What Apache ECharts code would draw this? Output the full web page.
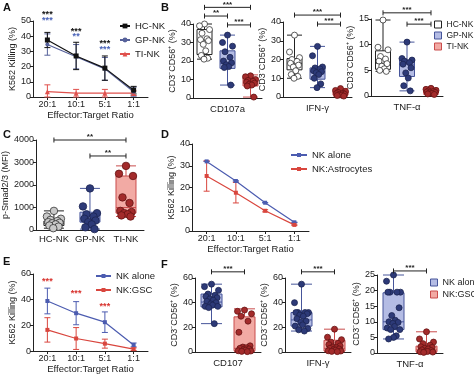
<!DOCTYPE html>
<html>
<head>
<meta charset="utf-8">
<script src="https://cdn.jsdelivr.net/npm/echarts@6.0.0/dist/echarts.min.js"></script>
<style>
html, body { margin: 0; padding: 0; background: #fff; }
#fig { width: 474px; height: 375px; }
</style>
</head>
<body>
<div id="fig"></div>
<script>
// categories
var ratios = ['20:1', '10:1', '5:1', '1:1'];
var nkGroups = ['HC-NK', 'GP-NK', 'TI-NK'];
var gscGroups = ['NK alone', 'NK:GSC'];

// A - K562 killing (mean, SD)
var aHcMean = [37.5, 27, 19, 4.5];
var aHcSd = [5, 9, 8, 2.5];
var aGpMean = [34.5, 26.5, 18.5, 3.5];
var aGpSd = [7, 8, 7.5, 3];
var aTiMean = [3.5, 2.5, 2.5, 2.5];
var aTiSd = [4.5, 2.5, 2.5, 1.5];
var aStarsHc = [[0, 54, '***'], [1, 43, '***'], [2, 35, '***']];
var aStarsGp = [[0, 50.5, '***'], [1, 39.5, '**'], [2, 31, '***']];

// B - CD3-CD56+ (%) per donor; box = [min, Q1, median, Q3, max]
var b1Hc = [40, 39, 37, 35, 32, 31.5, 31, 29, 25.5, 23, 21.5, 21];
var b1Gp = [34, 30, 28, 25, 22, 20, 19, 18, 17, 16.5, 7];
var b1Ti = [12, 11.5, 10, 9.5, 9, 8.5, 8, 7.5, 7, 6.5, 0.5];
var b1Box = [[21, 23.5, 31.5, 37, 40], [7, 16, 18.5, 25.5, 34], [0.5, 6.5, 9.5, 11, 12.5]];
var b1Sig = [[0, 2, 49, '***'], [0, 1, 44.3, '**'], [1, 2, 39.5, '***']];

var b2Hc = [33, 24, 21, 20, 19, 18, 17, 16, 14, 12, 11, 10];
var b2Gp = [27, 22, 16, 15.5, 15, 14, 13.5, 13, 12, 10, 7, 5];
var b2Ti = [4.5, 3.5, 3, 2.5, 2, 1.8, 1.5, 1.2, 1, 0.8, 0.5];
var b2Box = [[10, 14.5, 18, 20.5, 33], [5, 9.5, 13.5, 15.5, 27], [0.5, 1, 1.8, 3, 4.5]];
var b2Sig = [[0, 2, 43.7, '***'], [1, 2, 38.9, '***']];

var b3Hc = [14.8, 9.5, 9, 7.7, 7.2, 6.8, 6.3, 5.8, 5.3, 5, 4.8];
var b3Gp = [10.5, 7.3, 7, 6.8, 6.5, 6.2, 5.5, 4.5, 3.5, 2, 1];
var b3Ti = [1.5, 1.3, 1.1, 1, 0.9, 0.8, 0.7, 0.6, 0.5, 0.4, 0.3];
var b3Box = [[4.8, 5.2, 6.4, 8.8, 14.8], [1, 3.8, 6.2, 7, 10.5], [0.3, 0.5, 0.7, 1, 1.5]];
var b3Sig = [[0, 2, 16.2, '***'], [1, 2, 14, '***']];

// C - p-Smad2/3 (MFI)
var cHc = [850, 600, 500, 450, 400, 350, 320, 300, 250, 200, 150, 80];
var cGp = [1850, 1050, 750, 700, 600, 500, 420, 350, 250, 120, 40];
var cTi = [2850, 2500, 2400, 1450, 1200, 850, 800, 750, 700, 650, 600];
var cBox = [[80, 200, 300, 400, 850], [40, 350, 530, 790, 1850], [600, 750, 1000, 2400, 2850]];
var cSig = [[0, 2, 4000, '**'], [1, 2, 3290, '**']];

// D - NK alone vs NK:Astrocytes
var dAloneMean = [32, 23, 13, 4];
var dAloneSd = [0, 0, 0, 0];
var dAstroMean = [25.3, 17.6, 9.3, 2.8];
var dAstroSd = [7, 4.7, 0.5, 0.3];

// E - NK alone vs NK:GSC
var eAloneMean = [39, 29.5, 22.5, 4.8];
var eAloneSd = [10, 9, 8, 1.5];
var eGscMean = [16.5, 9.8, 5.8, 1.5];
var eGscSd = [9.5, 8.5, 3.5, 1];
var eStars = [[0, 54, '***'], [1, 44.8, '***'], [2, 35, '***']];

// F - CD3-CD56+ (%) NK alone vs NK:GSC
var f1Alone = [55, 53, 50, 47, 46, 45, 44, 43, 42, 41, 40, 39, 38, 37, 37, 36, 23];
var f1Gsc = [34, 33, 31, 29, 25, 16, 5, 4, 3.5, 3, 2.5, 2, 1.5, 1, 0.8, 0.5, 0.3];
var f1Box = [[23, 36.5, 40.5, 47, 55], [0.3, 1, 3, 28.5, 35]];
var f2Alone = [55, 40, 32, 32, 32, 32, 31, 30, 29, 27, 25, 24, 22, 21, 19, 18, 17];
var f2Gsc = [18.5, 12, 10, 8, 7, 6, 5, 4, 3.5, 3, 2.5, 2, 1.5, 1, 0.8, 0.5, 0.3];
var f2Box = [[17, 21, 26, 32, 55], [0.3, 0.8, 3, 9.5, 18.5]];
var f3Alone = [25, 23, 19.5, 19.5, 19.5, 19.5, 14.5, 12, 10.5, 10, 9.8, 9.5, 8.5, 8, 7.5, 7.5, 5.5, 5, 4.5];
var f3Gsc = [6.8, 4.5, 3.5, 3, 2.5, 2, 1.8, 1.5, 1.3, 1, 0.8, 0.6, 0.5, 0.4, 0.3, 0.2];
var f3Box = [[4.5, 7.5, 10, 19.3, 25], [0.2, 0.4, 1, 2.2, 6.8]];
var fSig = [[0, 1, 65, '***']];
var f3Sig = [[0, 1, 26.3, '***']];

// styles
var INK = '#222';
var FONT = '"Liberation Sans", Arial, Helvetica, sans-serif';
var HC = {fill: '#ffffff', edge: '#222222', pt: '#ffffff', ptEdge: '#333333'};
var HCC = {fill: '#ffffff', edge: '#222222', pt: '#c9c9c9', ptEdge: '#333333'};
var GP = {fill: '#b4bce4', edge: '#46559a', pt: '#2d3a78', ptEdge: '#1c2552'};
var TI = {fill: '#f2aaa4', edge: '#c94c4c', pt: '#a32b2b', ptEdge: '#661414'};
var BLUE = '#4c5cb0', RED = '#d9463e';
var JIT = [0, -1, 1, -0.5, 0.5, -0.8, 0.8, -0.25, 0.25, -0.65, 0.65, -0.1, 0.15, -0.9, 0.9, -0.4, 0.4, 0, -0.7];

var grids = [], xAxis = [], yAxis = [], series = [], legend = [], title = [];

function addPanel(rect, cats, yr, o) {
  var gi = grids.length;
  grids.push({left: rect[0], top: rect[1], width: rect[2], height: rect[3]});
  xAxis.push({
    gridIndex: gi, type: 'category', data: cats,
    axisLine: {lineStyle: {color: INK, width: 1}},
    axisTick: {show: !!o.xTick, alignWithLabel: true, length: 3, lineStyle: {color: INK}},
    axisLabel: {show: !!o.xLabels, color: INK, fontSize: o.xFont || 9, fontFamily: FONT, margin: o.xMargin || 3, interval: 0},
    name: o.xName || '', nameLocation: 'middle', nameGap: o.xGap || 12,
    nameTextStyle: {color: INK, fontSize: o.xNameFont || 9.5, fontFamily: FONT}
  });
  yAxis.push({
    gridIndex: gi, type: 'value', min: yr[0], max: yr[1], interval: yr[2],
    splitLine: {show: false},
    axisLine: {show: true, lineStyle: {color: INK, width: 1}},
    axisTick: {show: true, length: 3, lineStyle: {color: INK}},
    axisLabel: {color: INK, fontSize: 9, fontFamily: FONT, margin: 2, formatter: function (v) { return String(v); }},
    name: o.yName, nameLocation: 'middle', nameGap: o.yGap, nameRotate: 90,
    nameTextStyle: {color: INK, fontSize: o.yNameFont || 9, fontFamily: FONT}
  });
  return gi;
}

function addLine(gi, name, means, sds, color, symbol, size) {
  series.push({
    type: 'custom', xAxisIndex: gi, yAxisIndex: gi, silent: true, clip: false, z: 2,
    data: means.map(function (m, i) { return [i, Math.max(0, m - sds[i]), m + sds[i]]; }),
    encode: {x: 0, y: [1, 2]},
    renderItem: function (p, api) {
      var lo = api.coord([api.value(0), api.value(1)]);
      var hi = api.coord([api.value(0), api.value(2)]);
      var st = {stroke: color, lineWidth: 1};
      return {type: 'group', children: [
        {type: 'line', shape: {x1: lo[0], y1: lo[1], x2: hi[0], y2: hi[1]}, style: st},
        {type: 'line', shape: {x1: lo[0] - 3, y1: lo[1], x2: lo[0] + 3, y2: lo[1]}, style: st},
        {type: 'line', shape: {x1: hi[0] - 3, y1: hi[1], x2: hi[0] + 3, y2: hi[1]}, style: st}
      ]};
    }
  });
  series.push({
    type: 'line', name: name, xAxisIndex: gi, yAxisIndex: gi, data: means, silent: true,
    symbol: symbol, symbolSize: size, showAllSymbol: true, z: 3,
    lineStyle: {color: color, width: 1.2}, itemStyle: {color: color}
  });
}

// one boxplot series per panel (several would be laid out side by side), then one scatter per group
function addBoxes(gi, names, stats, sets, styles, boxW, ptSize, spread) {
  series.push({
    type: 'boxplot', xAxisIndex: gi, yAxisIndex: gi, silent: true, z: 2,
    boxWidth: [boxW, boxW],
    data: stats.map(function (s, i) {
      return {value: s, itemStyle: {color: styles[i].fill, borderColor: styles[i].edge, borderWidth: 1}};
    })
  });
  sets.forEach(function (pts, ci) {
    series.push({
      type: 'scatter', name: 'box:' + names[ci], xAxisIndex: gi, yAxisIndex: gi, silent: true, z: 3,
      symbol: 'circle', symbolSize: ptSize,
      itemStyle: {color: styles[ci].pt, borderColor: styles[ci].ptEdge, borderWidth: 0.8, opacity: 1},
      data: pts.map(function (v, k) {
        return {value: [ci, v], symbolOffset: [JIT[k % JIT.length] * spread, 0]};
      })
    });
  });
}

function addText(gi, items, color) {
  series.push({
    type: 'custom', xAxisIndex: gi, yAxisIndex: gi, silent: true, clip: false, z: 5,
    data: items.map(function (t) { return [t[0], t[1]]; }),
    encode: {x: 0, y: 1},
    renderItem: function (p, api) {
      var t = items[p.dataIndex];
      var c = api.coord([t[0], t[1]]);
      return {type: 'text', x: c[0], y: c[1],
        style: {text: t[2], fill: color, font: 'bold 9px ' + FONT, align: 'center', verticalAlign: 'middle'}};
    }
  });
}

function addSig(gi, items) {
  series.push({
    type: 'custom', xAxisIndex: gi, yAxisIndex: gi, silent: true, clip: false, z: 5,
    data: items.map(function (b) { return [b[0], b[2]]; }),
    encode: {x: 0, y: 1},
    renderItem: function (p, api) {
      var b = items[p.dataIndex];
      var a = api.coord([b[0], b[2]]), c = api.coord([b[1], b[2]]);
      var st = {stroke: INK, lineWidth: 1};
      return {type: 'group', children: [
        {type: 'line', shape: {x1: a[0], y1: a[1], x2: c[0], y2: c[1]}, style: st},
        {type: 'line', shape: {x1: a[0], y1: a[1] - 2.5, x2: a[0], y2: a[1] + 2.5}, style: st},
        {type: 'line', shape: {x1: c[0], y1: c[1] - 2.5, x2: c[0], y2: c[1] + 2.5}, style: st},
        {type: 'text', x: (a[0] + c[0]) / 2, y: a[1] + 1,
          style: {text: b[3], fill: INK, font: 'bold 8px ' + FONT, align: 'center', verticalAlign: 'bottom'}}
      ]};
    }
  });
}

function letter(t, x, y) {
  title.push({text: t, left: x, top: y, padding: 0,
    textStyle: {fontSize: 11, fontWeight: 'bold', color: '#111', fontFamily: FONT}});
}

var legendText = {color: INK, fontSize: 9.5, fontFamily: FONT};
function stripBox(n) { return n.replace('box:', ''); }
function boxLegend(names, styles) {
  return names.map(function (g, i) {
    return {name: 'box:' + g, icon: 'rect', itemStyle: {color: styles[i].fill, borderColor: styles[i].edge, borderWidth: 1}};
  });
}

// ---- A
var gA = addPanel([33, 21, 115, 76], ratios, [0, 50, 10],
  {xTick: true, xLabels: true, xName: 'Effector:Target Ratio', xGap: 13, yName: 'K562 Killing (%)', yGap: 16});
addLine(gA, 'TI-NK', aTiMean, aTiSd, '#e0514d', 'triangle', 5);
addLine(gA, 'GP-NK', aGpMean, aGpSd, '#56619a', 'circle', 4);
addLine(gA, 'HC-NK', aHcMean, aHcSd, '#111111', 'rect', 5);
addText(gA, aStarsHc, '#111');
addText(gA, aStarsGp, '#4a63b8');
letter('A', 3, 2);
legend.push({left: 119, top: 21, orient: 'vertical', padding: 0, itemWidth: 10, itemHeight: 6, itemGap: 4,
  selectedMode: false, textStyle: legendText, data: ['HC-NK', 'GP-NK', 'TI-NK']});

// ---- B
var bStyles = [HC, GP, TI];
var pctName = 'CD3\u207BCD56\u207A (%)';
function bPanel(rect, yr, xName, gap, sets, box, sig) {
  var gi = addPanel(rect, [0, 1, 2], yr, {xName: xName, xGap: 6, yName: pctName, yGap: gap});
  addBoxes(gi, nkGroups, box, sets, bStyles, 15, 6, 5);
  addSig(gi, sig);
}
bPanel([193, 24, 69, 74], [0, 40, 10], 'CD107a', 13, [b1Hc, b1Gp, b1Ti], b1Box, b1Sig);
bPanel([283, 22, 69, 75], [0, 40, 10], 'IFN-\u03B3', 14, [b2Hc, b2Gp, b2Ti], b2Box, b2Sig);
bPanel([371, 19, 72, 77], [0, 15, 5], 'TNF-\u03B1', 11, [b3Hc, b3Gp, b3Ti], b3Box, b3Sig);
letter('B', 161, 2);
legend.push({left: 434, top: 20, orient: 'vertical', padding: 0, itemWidth: 7, itemHeight: 7, itemGap: 2,
  selectedMode: false, textStyle: {color: INK, fontSize: 8.5, fontFamily: FONT}, formatter: stripBox,
  data: boxLegend(nkGroups, bStyles)});

// ---- C
var gC = addPanel([34, 140, 110, 90], nkGroups, [0, 4000, 1000],
  {xLabels: true, xFont: 9.5, xMargin: 4, yName: 'p-Smad2/3 (MFI)', yGap: 23});
addBoxes(gC, ['c0', 'c1', 'c2'], cBox, [cHc, cGp, cTi], [HCC, GP, TI], 20, 7.5, 7);
addSig(gC, cSig);
letter('C', 3, 129);

// ---- D
var gD = addPanel([192, 144, 117, 87], ratios, [0, 40, 10],
  {xTick: true, xLabels: true, xName: 'Effector:Target Ratio', xGap: 10, yName: 'K562 Killing (%)', yGap: 16});
addLine(gD, 'NK alone', dAloneMean, dAloneSd, BLUE, 'rect', 4);
addLine(gD, 'NK:Astrocytes', dAstroMean, dAstroSd, RED, 'rect', 4);
letter('D', 161, 129);
legend.push({left: 290, top: 150, orient: 'vertical', padding: 0, itemWidth: 16, itemHeight: 5, itemGap: 4,
  selectedMode: false, textStyle: legendText, data: ['NK alone', 'NK:Astrocytes']});

// ---- E
var gE = addPanel([33, 274, 115, 79], ratios, [0, 60, 20],
  {xTick: true, xLabels: true, xName: 'Effector:Target Ratio', xGap: 10, yName: 'K562 Killing (%)', yGap: 16});
addLine(gE, 'NK alone', eAloneMean, eAloneSd, BLUE, 'rect', 4);
addLine(gE, 'NK:GSC', eGscMean, eGscSd, RED, 'rect', 4);
addText(gE, eStars, '#d8332e');
letter('E', 3, 256);
legend.push({left: 95, top: 271, orient: 'vertical', padding: 0, itemWidth: 15, itemHeight: 5, itemGap: 4,
  selectedMode: false, textStyle: legendText, data: ['NK alone', 'NK:GSC']});

// ---- F
var fStyles = [GP, TI];
function fPanel(rect, yr, xName, gap, sets, box, sig) {
  var gi = addPanel(rect, [0, 1], yr, {xName: xName, xGap: 6, yName: pctName, yGap: gap});
  addBoxes(gi, gscGroups, box, sets, fStyles, 21, 6, 7);
  addSig(gi, sig);
}
fPanel([195, 278, 66, 74], [0, 60, 20], 'CD107', 15, [f1Alone, f1Gsc], f1Box, fSig);
fPanel([285, 278, 66, 74], [0, 60, 20], 'IFN-\u03B3', 15, [f2Alone, f2Gsc], f2Box, fSig);
fPanel([377, 275, 66, 78], [0, 25, 5], 'TNF-\u03B1', 16, [f3Alone, f3Gsc], f3Box, f3Sig);
letter('F', 161, 259);
legend.push({left: 430, top: 278, orient: 'vertical', padding: 0, itemWidth: 7, itemHeight: 7, itemGap: 3,
  selectedMode: false, textStyle: {color: INK, fontSize: 9, fontFamily: FONT}, formatter: stripBox,
  data: boxLegend(gscGroups, fStyles)});

var chart = echarts.init(document.getElementById('fig'), null, {renderer: 'canvas'});
chart.setOption({
  animation: false,
  backgroundColor: '#fff',
  textStyle: {fontFamily: FONT},
  title: title,
  legend: legend,
  grid: grids,
  xAxis: xAxis,
  yAxis: yAxis,
  series: series
});
</script>
</body>
</html>
